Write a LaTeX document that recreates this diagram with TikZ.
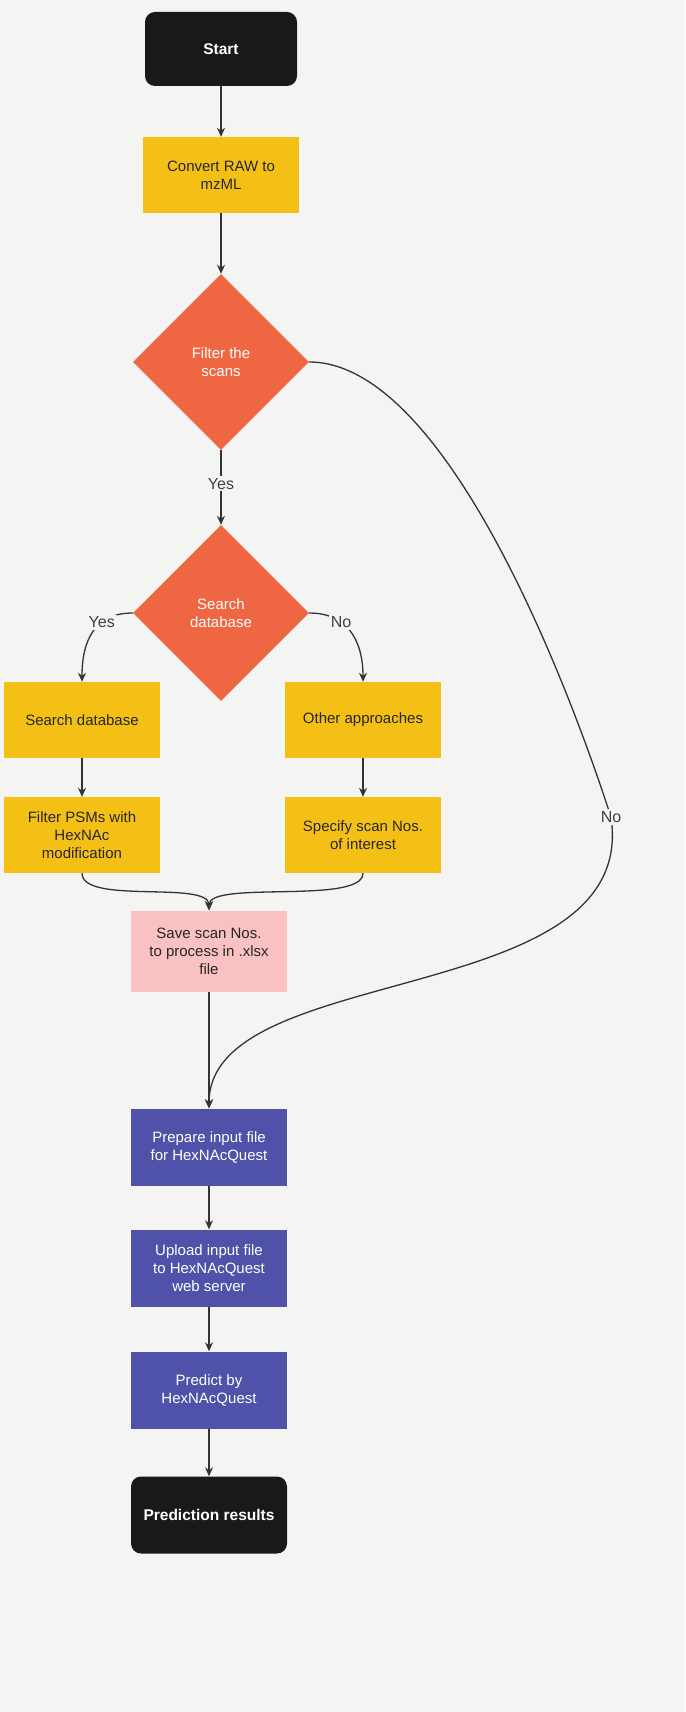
\documentclass[tikz,border=0pt]{standalone}
\usepackage{fontspec}
\setmainfont{Liberation Sans}
\usetikzlibrary{shapes.geometric,arrows.meta}
\definecolor{bg}{HTML}{F4F4F2}
\definecolor{yel}{HTML}{F5C016}
\definecolor{org}{HTML}{EE6642}
\definecolor{pnk}{HTML}{F9C1C1}
\definecolor{blu}{HTML}{4F52A8}
\definecolor{ln}{HTML}{333333}
\tikzset{
 base/.style={minimum width=156pt,minimum height=76pt,align=center,font=\fontsize{15}{18}\selectfont,inner sep=2pt},
 term/.style={base,fill=black!90,text=white,rounded corners=10pt,font=\fontsize{15.5}{18}\selectfont\bfseries},
 ybox/.style={base,fill=yel,text=black!85},
 pbox/.style={base,fill=pnk,text=black!85,minimum height=81pt},
 bbox/.style={base,fill=blu,text=white,minimum height=77pt},
 dia/.style={diamond,fill=org,text=white,minimum width=176pt,minimum height=176pt,align=center,font=\fontsize{15}{18}\selectfont,inner sep=0pt},
 arr/.style={draw=ln,line width=1.3pt,-{Stealth[length=9pt,width=8pt]}},
 lab/.style={font=\fontsize{16}{18}\selectfont,text=black!75,fill=bg,inner sep=2pt}
}
\begin{document}
\begin{tikzpicture}[x=1pt,y=-1pt]
\fill[bg] (0,0) rectangle (685,1712);
\useasboundingbox (0,0) rectangle (685,1712);
\node[term,minimum width=152pt,minimum height=74pt] (start) at (221,49) {Start};
\node[ybox] (conv) at (221,175) {Convert RAW to\\mzML};
\node[dia] (d1) at (221,362) {Filter the\\scans};
\node[dia] (d2) at (221,613) {Search\\database};
\node[ybox] (sdb) at (82,720) {Search database};
\node[ybox] (oth) at (363,720) {Other approaches};
\node[ybox] (fps) at (82,835) {Filter PSMs with\\HexNAc\\modification};
\node[ybox] (spc) at (363,835) {Specify scan Nos.\\of interest};
\node[pbox] (save) at (209,951) {Save scan Nos.\\to process in .xlsx\\file};
\node[bbox] (prep) at (209,1147) {Prepare input file\\for HexNAcQuest};
\node[bbox] (upl) at (209,1268) {Upload input file\\to HexNAcQuest\\web server};
\node[bbox] (pred) at (209,1390) {Predict by\\HexNAcQuest};
\node[term,minimum width=156pt,minimum height=77pt] (res) at (209,1515) {Prediction results};
\draw[arr] (start) -- (conv);
\draw[arr] (conv) -- (d1);
\draw[arr] (d1) -- node[lab,pos=0.45]{Yes} (d2);
\draw[arr] (d2.west) .. controls (95,613) and (82,640) .. node[lab,pos=0.35]{Yes} (sdb.north);
\draw[arr] (d2.east) .. controls (347,613) and (363,640) .. node[lab,pos=0.35]{No} (oth.north);
\draw[arr] (sdb) -- (fps);
\draw[arr] (oth) -- (spc);
\draw[arr] (fps.south) .. controls (82,905) and (209,880) .. (save.north);
\draw[arr] (spc.south) .. controls (363,905) and (209,880) .. (save.north);
\draw[arr] (save) -- (prep);
\draw[arr] (prep) -- (upl);
\draw[arr] (upl) -- (pred);
\draw[arr] (pred) -- (res);
\coordinate (nop) at (611,817);
\draw[arr] (d1.east) .. controls (440,362) and (560,660) .. (nop) .. controls (640,1010) and (209,960) .. (prep.north);
\node[lab] at (nop) {No};
\end{tikzpicture}
\end{document}
